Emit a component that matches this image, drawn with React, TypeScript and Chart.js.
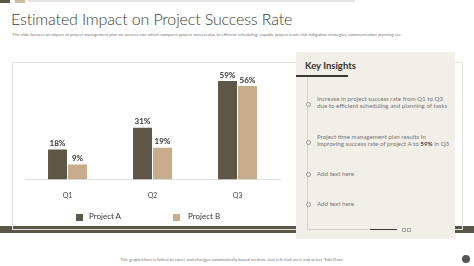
import React, { useEffect, useRef } from "react";
import { Chart, registerables } from "chart.js";

Chart.register(...registerables);

const categories = ["Q1", "Q2", "Q3"];
const projectA = [18, 31, 59];
const projectB = [9, 19, 56];
const seriesNames = ["Project A", "Project B"];
const colorA = "#5e5647";
const colorB = "#c8ad8c";

const insights = [
  ["Increase  in project success rate from Q1 to Q3", "due to efficient scheduling  and planning of tasks"],
  ["Project time management plan results in", "improving success rate of project A to |59%| in Q3"],
  ["Add text here"],
  ["Add text here"],
];

const FONT = "Lato, 'DejaVu Sans', sans-serif";

// Writes each bar's value as a percentage just above the bar.
const valueLabels = {
  id: "valueLabels",
  afterDatasetsDraw(chart: any) {
    const ctx = chart.ctx;
    ctx.save();
    ctx.font = `bold 8px ${FONT}`;
    ctx.fillStyle = "#333333";
    ctx.textAlign = "center";
    ctx.textBaseline = "bottom";
    chart.data.datasets.forEach((ds: any, i: number) => {
      const meta = chart.getDatasetMeta(i);
      meta.data.forEach((bar: any, j: number) => {
        ctx.fillText(`${ds.data[j]}%`, bar.x, bar.y - 2);
      });
    });
    ctx.restore();
  },
};

function BarChart() {
  const ref = useRef<HTMLCanvasElement>(null);
  useEffect(() => {
    if (!ref.current) return;
    const chart = new Chart(ref.current, {
      type: "bar",
      data: {
        labels: categories,
        datasets: [
          { label: seriesNames[0], data: projectA, backgroundColor: colorA },
          { label: seriesNames[1], data: projectB, backgroundColor: colorB },
        ],
      },
      options: {
        responsive: false,
        animation: false,
        devicePixelRatio: 1,
        layout: { padding: { left: 13, right: 12, top: 9, bottom: 8 } },
        datasets: { bar: { categoryPercentage: 0.47, barPercentage: 0.95 } },
        plugins: { legend: { display: false }, tooltip: { enabled: false } },
        scales: {
          x: {
            grid: { display: false },
            border: { display: true, color: "#e2e2e2", width: 1 },
            ticks: { font: { family: FONT, size: 7 }, color: "#444444", padding: 4 },
          },
          y: { display: false, min: 0, max: 65 },
        },
      },
      plugins: [valueLabels],
    });
    return () => chart.destroy();
  }, []);
  return <canvas ref={ref} width={280} height={150} style={{ position: "absolute", left: 12, top: 62 }} />;
}

const abs = (s: React.CSSProperties): React.CSSProperties => ({ position: "absolute", ...s });

function renderLine(text: string) {
  const parts = text.split("|");
  return parts.map((p, i) =>
    i % 2 === 1 ? (
      <b key={i} style={{ color: "#444" }}>{p}</b>
    ) : (
      <span key={i}>{p}</span>
    )
  );
}

export default function App() {
  const bulletY = [104, 142, 174, 204];
  return (
    <div style={{ position: "fixed", left: 0, top: 0, width: 474, height: 266, background: "#fff", overflow: "hidden", fontFamily: FONT }}>
      {/* top strip */}
      <div style={abs({ left: 0, top: 0, width: 10, height: 3, background: "#5b5747" })} />
      <div style={abs({ left: 15, top: 0, width: 10, height: 3, background: "#cdbb9e" })} />
      <div style={abs({ left: 28, top: 0, width: 327, height: 2, background: "#e4e4e4" })} />

      <div style={abs({ left: 11, top: 9, fontSize: 16, fontWeight: 300, color: "#3a3a3a", whiteSpace: "nowrap", letterSpacing: -0.15 })}>
        Estimated Impact on Project Success Rate
      </div>
      <div style={abs({ left: 12, top: 32, fontSize: 4.25, color: "#777", whiteSpace: "nowrap" })}>
        This slide focuses on impact of project management plan on success rate which compares project success due to efficient scheduling, capable project team, risk mitigation strategies, communication planning etc.
      </div>

      {/* bottom band and frame */}
      <div style={abs({ left: 0, top: 226, width: 474, height: 7, background: "#5b5747" })} />
      <div style={abs({ left: 12, top: 62, width: 449, height: 166, border: "1px solid #e2e2e2" })} />

      <BarChart />

      {/* legend */}
      <div style={abs({ left: 76, top: 214, width: 7, height: 7, background: colorA })} />
      <div style={abs({ left: 89, top: 211, fontSize: 8, color: "#333", whiteSpace: "nowrap" })}>{seriesNames[0]}</div>
      <div style={abs({ left: 173, top: 214, width: 7, height: 7, background: colorB })} />
      <div style={abs({ left: 188, top: 211, fontSize: 8, color: "#333", whiteSpace: "nowrap" })}>{seriesNames[1]}</div>

      {/* insights panel */}
      <div style={abs({ left: 296, top: 52, width: 159, height: 187, background: "#f2eee8" })} />
      <div style={abs({ left: 305, top: 60, fontSize: 9.5, fontWeight: 700, color: "#333", whiteSpace: "nowrap" })}>Key Insights</div>
      <div style={abs({ left: 296, top: 75, width: 52, height: 1.5, background: "#3c3a35" })} />
      <div style={abs({ left: 307, top: 77, width: 1, height: 153, background: "#d8d2ca" })} />
      <div style={abs({ left: 307, top: 229, width: 63, height: 1, background: "#d8d2ca" })} />
      <div style={abs({ left: 370, top: 228.5, width: 27, height: 1.5, background: "#3c3a35" })} />
      <div style={abs({ left: 402, top: 228, width: 2, height: 2, border: "0.5px solid #aaa" })} />
      <div style={abs({ left: 407, top: 228, width: 2, height: 2, border: "0.5px solid #aaa" })} />
      {insights.map((lines, i) => (
        <React.Fragment key={i}>
          <div style={abs({ left: 305.5, top: bulletY[i] - 2, width: 3, height: 3, borderRadius: 3, border: "0.6px solid #999", background: "#f2eee8" })} />
          <div style={abs({ left: 317, top: bulletY[i] - (lines.length === 2 ? 9 : 4.5), fontSize: 6.2, lineHeight: "7px", color: "#777", whiteSpace: "nowrap" })}>
            {lines.map((l, k) => (
              <div key={k}>{renderLine(l)}</div>
            ))}
          </div>
        </React.Fragment>
      ))}

      <div style={abs({ left: 120, top: 257, fontSize: 4.4, color: "#777", whiteSpace: "nowrap" })}>
        This graph/chart is linked to excel, and changes automatically based on data. Just left click on it and select 'Edit Data'.
      </div>
      <div style={abs({ left: 462, top: 255, width: 8, height: 8, borderRadius: 4, background: "#555" })} />
    </div>
  );
}
